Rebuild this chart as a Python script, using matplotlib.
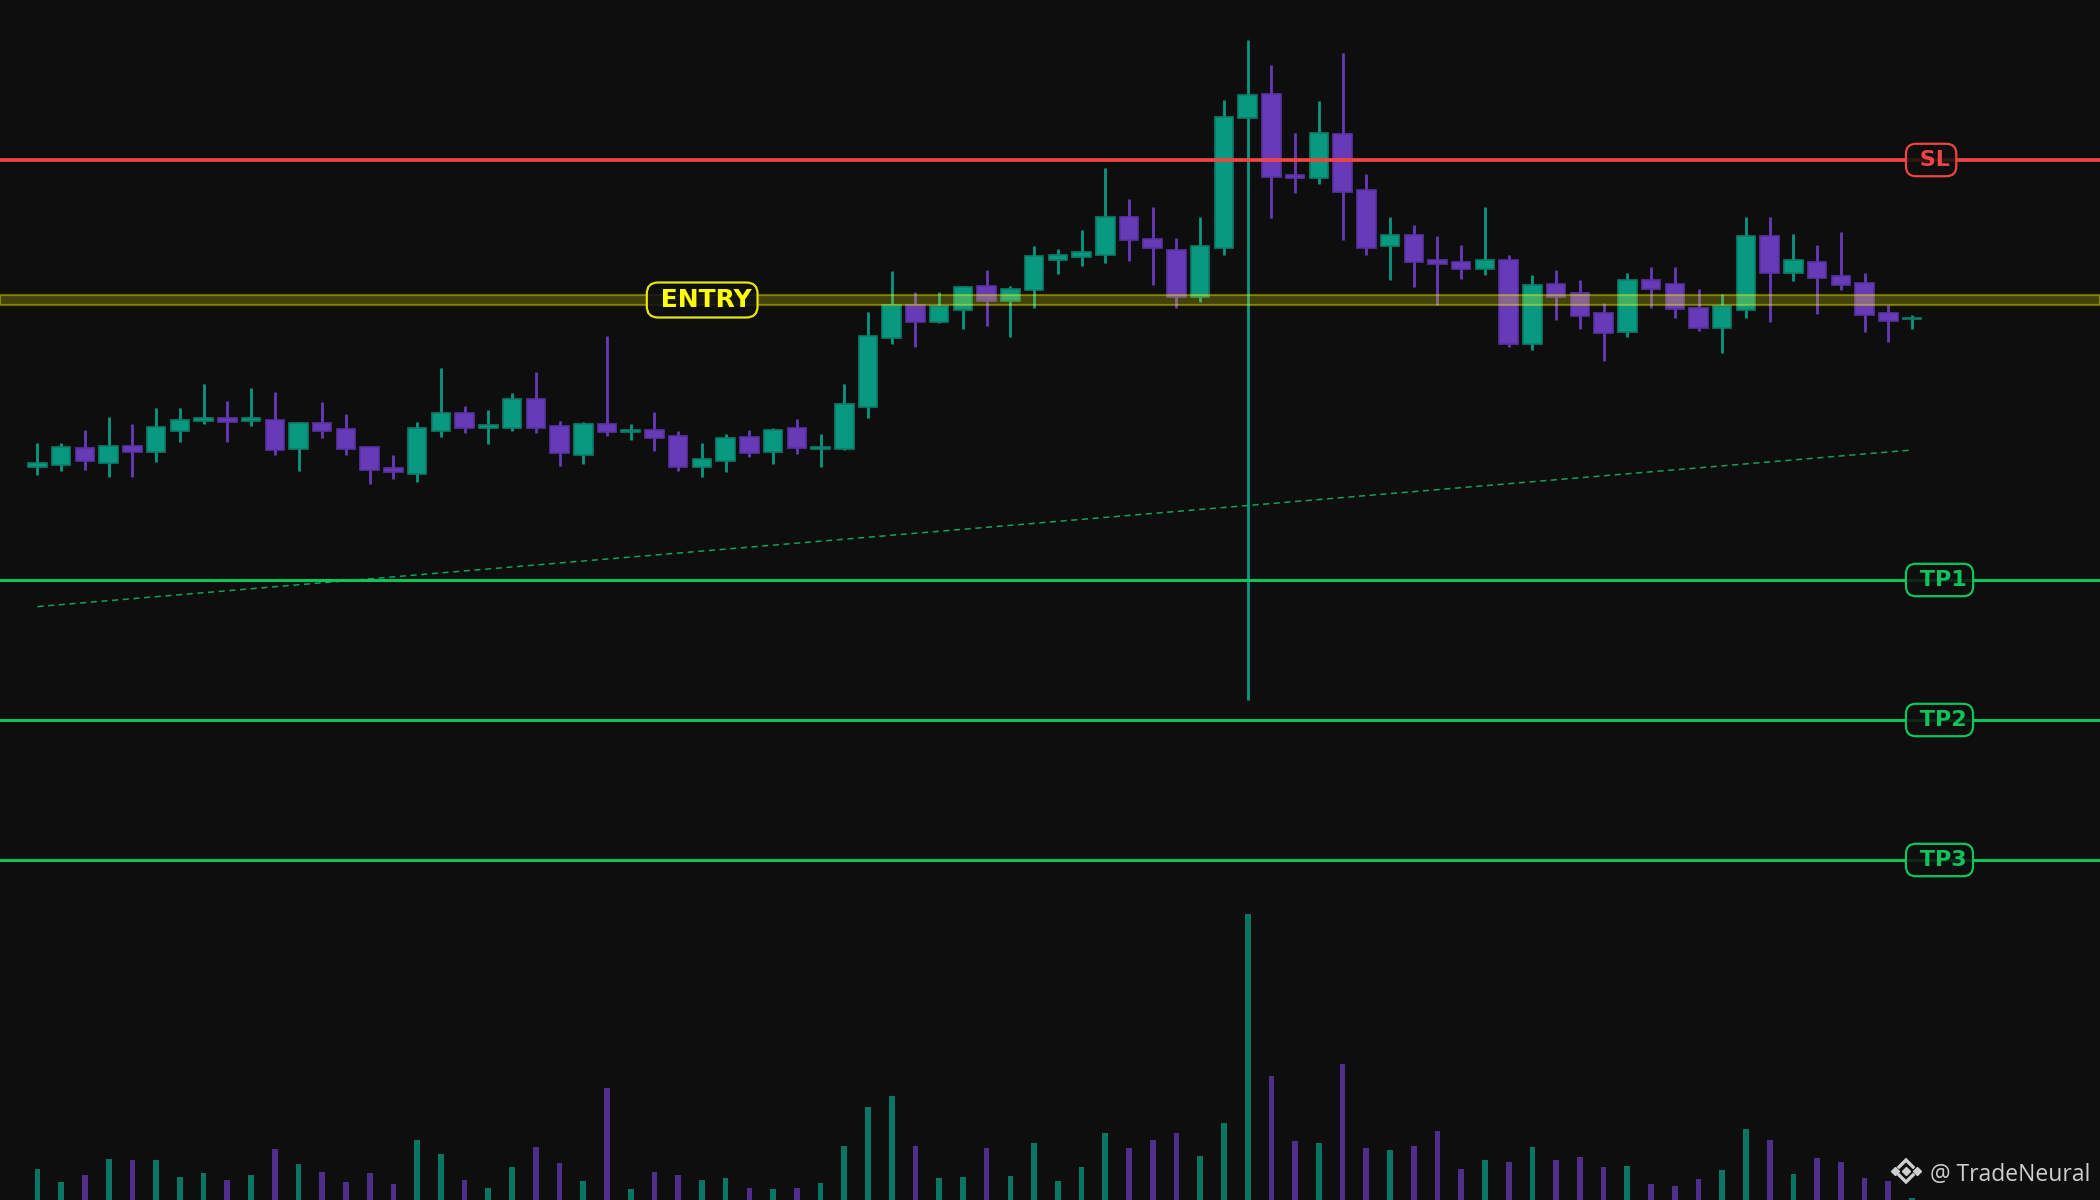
import numpy as np
import matplotlib.pyplot as plt
from matplotlib.transforms import blended_transform_factory

BG = '#0e0e0e'
UP = '#089981'
DOWN = '#673ab7'
UP_EDGE = '#0b7d69'
DOWN_EDGE = '#5a32a3'
SL_COLOR = '#f04444'
TP_COLOR = '#0cc55a'
ENTRY_COLOR = '#ffff00'
WM_COLOR = '#cfcfcf'

# OHLC per bar
opens = [26.67, 26.77, 27.59, 26.87, 27.69, 27.39, 28.44, 28.94, 29.09, 28.94,
         28.99, 27.54, 28.84, 28.54, 27.64, 26.59, 26.32, 28.44, 29.34, 28.59,
         28.59, 30.04, 28.69, 27.24, 28.79, 28.39, 28.49, 28.19, 26.64, 26.94,
         28.14, 27.39, 28.59, 27.54, 27.54, 29.64, 33.09, 34.75, 33.89, 34.49,
         35.69, 34.94, 35.49, 36.99, 37.14, 37.24, 39.14, 38.04, 37.49, 35.14,
         37.59, 44.09, 45.29, 41.24, 41.09, 43.29, 40.49, 37.69, 38.24, 36.99,
         36.89, 36.54, 37.00, 32.79, 35.79, 35.34, 34.34, 33.39, 35.99, 35.79,
         34.59, 33.59, 34.52, 38.19, 36.34, 36.89, 36.19, 35.84, 34.34, 34.04]
highs = [27.84, 27.84, 28.50, 29.15, 28.80, 29.60, 29.60, 30.80, 29.95, 30.60,
         30.40, 28.90, 29.90, 29.30, 27.64, 27.25, 28.90, 31.60, 29.70, 29.50,
         30.35, 31.40, 28.95, 28.90, 33.20, 28.80, 29.40, 28.44, 27.85, 28.30,
         28.50, 28.60, 29.05, 28.30, 30.80, 34.40, 36.45, 35.40, 35.40, 35.70,
         36.50, 35.70, 37.70, 37.55, 38.50, 41.60, 40.05, 39.65, 38.10, 39.15,
         45.00, 48.00, 46.75, 43.35, 44.95, 47.35, 41.30, 39.15, 38.75, 38.20,
         37.75, 39.65, 37.25, 36.25, 36.50, 36.00, 34.84, 36.35, 36.65, 36.65,
         35.55, 35.30, 39.15, 39.15, 38.30, 37.75, 38.40, 36.35, 34.75, 34.25]
lows = [26.25, 26.45, 26.50, 26.15, 26.15, 26.90, 27.90, 28.80, 27.90, 28.70,
        27.25, 26.45, 28.10, 27.25, 25.80, 26.05, 25.90, 28.15, 28.35, 27.80,
        28.45, 28.35, 26.72, 26.82, 28.22, 28.02, 27.47, 26.47, 26.17, 26.42,
        27.17, 26.82, 27.32, 26.67, 27.52, 29.12, 32.82, 32.67, 33.84, 33.57,
        33.72, 33.17, 34.62, 36.30, 36.70, 36.85, 36.95, 35.75, 34.62, 34.92,
        37.27, 14.98, 39.12, 40.37, 40.82, 38.02, 37.27, 36.02, 35.67, 34.77,
        36.07, 36.27, 32.67, 32.52, 34.02, 33.57, 31.97, 33.17, 34.62, 34.12,
        33.47, 32.37, 34.12, 33.92, 35.97, 34.32, 35.52, 33.42, 32.92, 33.57]
closes = [26.87, 27.64, 26.94, 27.69, 27.39, 28.64, 28.99, 29.09, 28.89, 29.09,
          27.49, 28.84, 28.44, 27.54, 26.49, 26.39, 28.59, 29.34, 28.59, 28.74,
          30.04, 28.59, 27.34, 28.79, 28.39, 28.49, 28.09, 26.64, 27.04, 28.09,
          27.34, 28.49, 27.59, 27.64, 29.79, 33.19, 34.75, 33.89, 34.69, 35.64,
          34.94, 35.54, 37.19, 37.24, 37.39, 39.14, 37.99, 37.59, 35.14, 37.69,
          44.14, 45.24, 41.14, 41.09, 43.34, 40.39, 37.59, 38.24, 36.89, 36.79,
          36.54, 36.99, 32.79, 35.74, 35.17, 34.19, 33.34, 35.99, 35.54, 34.57,
          33.59, 34.69, 38.19, 36.34, 36.99, 36.09, 35.74, 34.24, 33.94, 34.12]
volumes = [31, 18, 25, 41, 40, 40, 23, 27, 20, 25, 51, 36, 28, 18, 27, 16, 60, 46, 20, 12,
           33, 53, 37, 19, 112, 11, 28, 25, 20, 22, 12, 11, 12, 17, 54, 93, 104, 54, 22, 23,
           52, 24, 57, 19, 33, 67, 52, 60, 67, 44, 77, 286, 124, 59, 57, 136, 52, 50, 54, 69,
           31, 40, 38, 53, 40, 43, 33, 34, 16, 14, 21, 30, 71, 60, 26, 42, 38, 22, 19, 2]

# trade levels
sl_price = 42.0
entry_price = 35.0
entry_zone = (34.75, 35.25)
tp_prices = [21.0, 14.0, 7.0]
tp_names = ['TP1', 'TP2', 'TP3']

# dashed trend line end points (first bar, last bar)
trend_start = 19.67
trend_end = 27.5

o = np.array(opens)
h = np.array(highs)
l = np.array(lows)
c = np.array(closes)
x = np.arange(len(o))
up = c >= o
colors = np.where(up, UP, DOWN)
edges = np.where(up, UP_EDGE, DOWN_EDGE)

fig = plt.figure(figsize=(21, 12), dpi=100, facecolor=BG)
axv = fig.add_axes([0, 0, 1, 1])
ax = fig.add_axes([0, 0, 1, 1], sharex=axv)
for a in (axv, ax):
    a.set_axis_off()

# volume at the bottom
axv.bar(x, volumes, width=0.24, color=colors, alpha=0.75)
axv.set_ylim(0, max(volumes) * 4.2)

# candles
ax.vlines(x, l, h, colors=colors, lw=2.0, zorder=2)
ax.bar(x, np.maximum(np.abs(c - o), 0.05), bottom=np.minimum(o, c), width=0.78,
       color=colors, edgecolor=edges, linewidth=1.2, zorder=3)

ax.plot([x[0], x[-1]], [trend_start, trend_end], ls=(0, (4, 3)), color='#12a05c',
        lw=1.1, zorder=4)

ax.axhline(sl_price, color=SL_COLOR, lw=2.7, zorder=5)
for tp in tp_prices:
    ax.axhline(tp, color=TP_COLOR, lw=2.2, zorder=5)
ax.axhspan(*entry_zone, facecolor=(1, 1, 0, 0.22), edgecolor=(1, 1, 0, 0.36), lw=1.6, zorder=5)

ax.set_xlim(-1.58, 86.92)
ax.set_ylim(-10, 50)

trans = blended_transform_factory(ax.transAxes, ax.transData)


def tag(text, xfrac, y, color, edge, size=16, pad=0.28):
    ax.annotate(' ' + text, xy=(xfrac, y), xycoords=trans, xytext=(pad * size, 0),
                textcoords='offset points', ha='left', va='center', color=color,
                fontsize=size, fontweight='bold', zorder=7,
                bbox=dict(boxstyle='round,pad=%.2f,rounding_size=0.45' % pad,
                          fc=(14 / 255, 14 / 255, 14 / 255, 0.85), ec=edge, lw=1.6))


tag('SL', 0.9076, sl_price, SL_COLOR, SL_COLOR)
for name, tp in zip(tp_names, tp_prices):
    tag(name, 0.9076, tp, TP_COLOR, TP_COLOR)
tag('ENTRY', 0.308, entry_price, ENTRY_COLOR, '#e6e600', size=18, pad=0.22)

# watermark
ax.text(0.9955, 0.0205, '@ TradeNeural', transform=ax.transAxes, ha='right', va='center',
        fontsize=16.5, family=['Open Sans', 'DejaVu Sans'], color=WM_COLOR, zorder=8)
cx, cy = 1906 / 2100, 29 / 1200


def lp(dx, dy):
    return cx + dx / 2100, cy + dy / 1200


ax.plot(*lp(0, 0), marker='D', ms=4.5, color=WM_COLOR, transform=ax.transAxes, zorder=8)
for dx in (-11, 11):
    ax.plot(*lp(dx, 0), marker='D', ms=3.6, color=WM_COLOR, transform=ax.transAxes, zorder=8)
for s in (1, -1):
    pts = [lp(-7, 4 * s), lp(0, 11 * s), lp(7, 4 * s)]
    ax.plot([p[0] for p in pts], [p[1] for p in pts], color=WM_COLOR, lw=2.4,
            transform=ax.transAxes, zorder=8, solid_joinstyle='miter')

fig.savefig('out.png', dpi=100, facecolor=BG)
